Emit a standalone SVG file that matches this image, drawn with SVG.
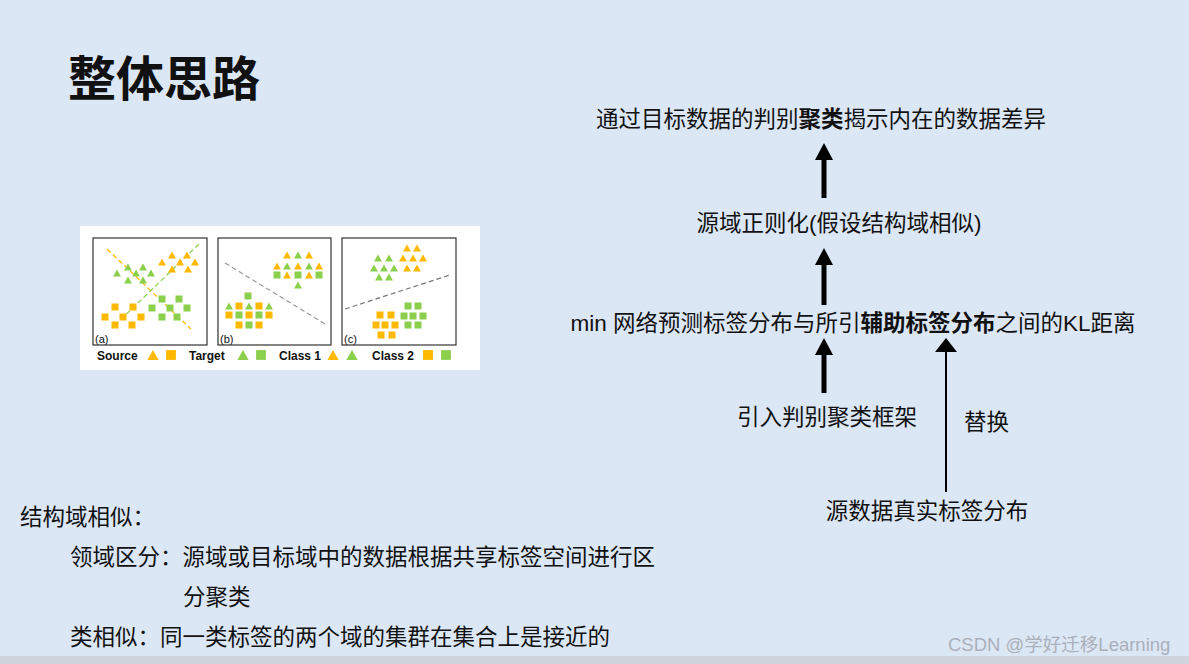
<svg xmlns="http://www.w3.org/2000/svg" width="1189" height="664" viewBox="0 0 1189 664">
<defs>
<style>
text{font-family:"Liberation Sans","Noto Sans CJK SC",sans-serif;fill:#111}
.t{font-size:22.5px}
.b{font-weight:bold}
.lg{font-size:12px;font-weight:bold}
.o{fill:#ffb900}.g{fill:#8ccf4d}
</style>
<polygon id="tr" points="0,-3.5 4,3.5 -4,3.5"/>
<rect id="sq" x="-3.5" y="-3.5" width="7" height="7"/>
</defs>
<rect width="1189" height="664" fill="#dce7f6"/>
<rect y="656" width="1189" height="8" fill="#cfd4dc"/>
<text x="68" y="96" font-size="48" class="b" fill="#222">整体思路</text>
<g id="figure">
<rect x="80" y="226" width="400" height="144" fill="#fff"/>
<g fill="none" stroke="#333" stroke-width="1.2"><rect x="93" y="238" width="114" height="107"/><rect x="218" y="238" width="113" height="107"/><rect x="342" y="238" width="114" height="107"/></g>
<g fill="none" stroke-dasharray="5,3" stroke-width="1.2"><line x1="107" y1="249" x2="191" y2="329" stroke="#ffb900"/><line x1="199" y1="244" x2="112" y2="328" stroke="#8ccf4d"/><line x1="225" y1="263" x2="325" y2="324" stroke="#999"/><line x1="345" y1="309" x2="450" y2="275" stroke="#777"/></g>
<g class="g"><use href="#tr" x="128" y="267"/><use href="#tr" x="143" y="267"/><use href="#tr" x="117" y="273"/><use href="#tr" x="136" y="273"/><use href="#tr" x="151" y="273"/><use href="#tr" x="128" y="280"/><use href="#tr" x="143" y="280"/>
<use href="#sq" x="162" y="299"/><use href="#sq" x="179" y="299"/><use href="#sq" x="152" y="308"/><use href="#sq" x="170" y="308"/><use href="#sq" x="187" y="308"/><use href="#sq" x="162" y="317"/><use href="#sq" x="177" y="317"/></g>
<g class="o"><use href="#tr" x="172" y="255"/><use href="#tr" x="187" y="255"/><use href="#tr" x="162" y="262"/><use href="#tr" x="180" y="262"/><use href="#tr" x="195" y="262"/><use href="#tr" x="172" y="269"/><use href="#tr" x="188" y="269"/>
<use href="#sq" x="115" y="307"/><use href="#sq" x="133" y="307"/><use href="#sq" x="105" y="317"/><use href="#sq" x="123" y="317"/><use href="#sq" x="141" y="317"/><use href="#sq" x="115" y="325"/><use href="#sq" x="132" y="325"/></g>
<g class="o"><use href="#tr" x="287" y="255"/><use href="#tr" x="309" y="255"/><use href="#tr" x="277" y="266"/><use href="#tr" x="298" y="266"/><use href="#tr" x="319" y="266"/><use href="#tr" x="287" y="275"/><use href="#tr" x="309" y="275"/>
<use href="#sq" x="239" y="306"/><use href="#sq" x="259" y="306"/><use href="#sq" x="229" y="315"/><use href="#sq" x="249" y="315"/><use href="#sq" x="269" y="315"/><use href="#sq" x="239" y="325"/><use href="#sq" x="259" y="325"/></g>
<g class="g"><use href="#tr" x="298" y="255"/><use href="#tr" x="287" y="266"/><use href="#tr" x="309" y="266"/><use href="#tr" x="298" y="285"/><use href="#sq" x="277" y="275"/><use href="#sq" x="298" y="275"/><use href="#sq" x="319" y="275"/>
<use href="#sq" x="248" y="296"/><use href="#tr" x="229" y="306"/><use href="#tr" x="249" y="306"/><use href="#tr" x="269" y="306"/><use href="#sq" x="239" y="315"/><use href="#sq" x="259" y="315"/><use href="#sq" x="249" y="325"/></g>
<g class="g"><use href="#tr" x="378" y="258"/><use href="#tr" x="389" y="258"/><use href="#tr" x="374" y="268"/><use href="#tr" x="384" y="268"/><use href="#tr" x="394" y="268"/><use href="#tr" x="379" y="277"/><use href="#tr" x="389" y="277"/>
<use href="#sq" x="408" y="306"/><use href="#sq" x="418" y="306"/><use href="#sq" x="404" y="316"/><use href="#sq" x="413" y="316"/><use href="#sq" x="423" y="316"/><use href="#sq" x="408" y="325"/><use href="#sq" x="418" y="325"/></g>
<g class="o"><use href="#tr" x="407" y="248"/><use href="#tr" x="417" y="248"/><use href="#tr" x="403" y="258"/><use href="#tr" x="413" y="258"/><use href="#tr" x="423" y="258"/><use href="#tr" x="407" y="268"/><use href="#tr" x="417" y="268"/>
<use href="#sq" x="380" y="315"/><use href="#sq" x="391" y="315"/><use href="#sq" x="376" y="325"/><use href="#sq" x="385" y="325"/><use href="#sq" x="395" y="325"/><use href="#sq" x="381" y="335"/><use href="#sq" x="392" y="335"/></g>
<g font-size="11"><text x="95" y="343">(a)</text><text x="220" y="343">(b)</text><text x="344" y="343">(c)</text></g>
<text class="lg" x="97" y="360">Source</text><use href="#tr" x="153" y="355" class="o" transform="translate(153 355) scale(1.4) translate(-153 -355)"/><use href="#sq" x="171" y="355" class="o" transform="translate(171 355) scale(1.4) translate(-171 -355)"/>
<text class="lg" x="189" y="360">Target</text><use href="#tr" x="243" y="355" class="g" transform="translate(243 355) scale(1.4) translate(-243 -355)"/><use href="#sq" x="261" y="355" class="g" transform="translate(261 355) scale(1.4) translate(-261 -355)"/>
<text class="lg" x="279" y="360">Class 1</text><use href="#tr" x="333" y="355" class="o" transform="translate(333 355) scale(1.4) translate(-333 -355)"/><use href="#tr" x="352" y="355" class="g" transform="translate(352 355) scale(1.4) translate(-352 -355)"/>
<text class="lg" x="372" y="360">Class 2</text><use href="#sq" x="428" y="355" class="o" transform="translate(428 355) scale(1.4) translate(-428 -355)"/><use href="#sq" x="446" y="355" class="g" transform="translate(446 355) scale(1.4) translate(-446 -355)"/>
</g>
<g id="n1"><text class="t" x="821" y="127" text-anchor="middle">通过目标数据的判别<tspan class="b">聚类</tspan>揭示内在的数据差异</text></g>
<g id="n2"><text class="t" x="839" y="231" text-anchor="middle">源域正则化(假设结构域相似)</text></g>
<g id="n3"><text class="t" x="853" y="331" text-anchor="middle">min 网络预测标签分布与所引<tspan class="b">辅助标签分布</tspan>之间的KL距离</text></g>
<g id="n4"><text class="t" x="827" y="425" text-anchor="middle">引入判别聚类框架</text></g>
<g id="n5"><text class="t" x="927" y="519" text-anchor="middle">源数据真实标签分布</text></g>
<g id="connectors">
<g stroke="#000" stroke-width="5"><line x1="824" y1="198" x2="824" y2="158"/><line x1="824" y1="305" x2="824" y2="263"/><line x1="824" y1="393" x2="824" y2="353"/></g>
<g fill="#000"><polygon points="815,160 833,160 824,143"/><polygon points="815,265 833,265 824,248"/><polygon points="815,355 833,355 824,338"/><polygon points="935,352 957,352 946,338"/></g>
<line x1="946" y1="492" x2="946" y2="350" stroke="#000" stroke-width="2"/>
<text class="t" x="964" y="430">替换</text>
</g>
<g><text class="t" x="20" y="525">结构域相似：</text><text class="t" x="70" y="565">领域区分：源域或目标域中的数据根据共享标签空间进行区</text><text class="t" x="183" y="605">分聚类</text><text class="t" x="70" y="645">类相似：同一类标签的两个域的集群在集合上是接近的</text></g>
<text x="948" y="651" font-size="18.5" style="fill:#aab0ba">CSDN @学好迁移Learning</text>
</svg>
